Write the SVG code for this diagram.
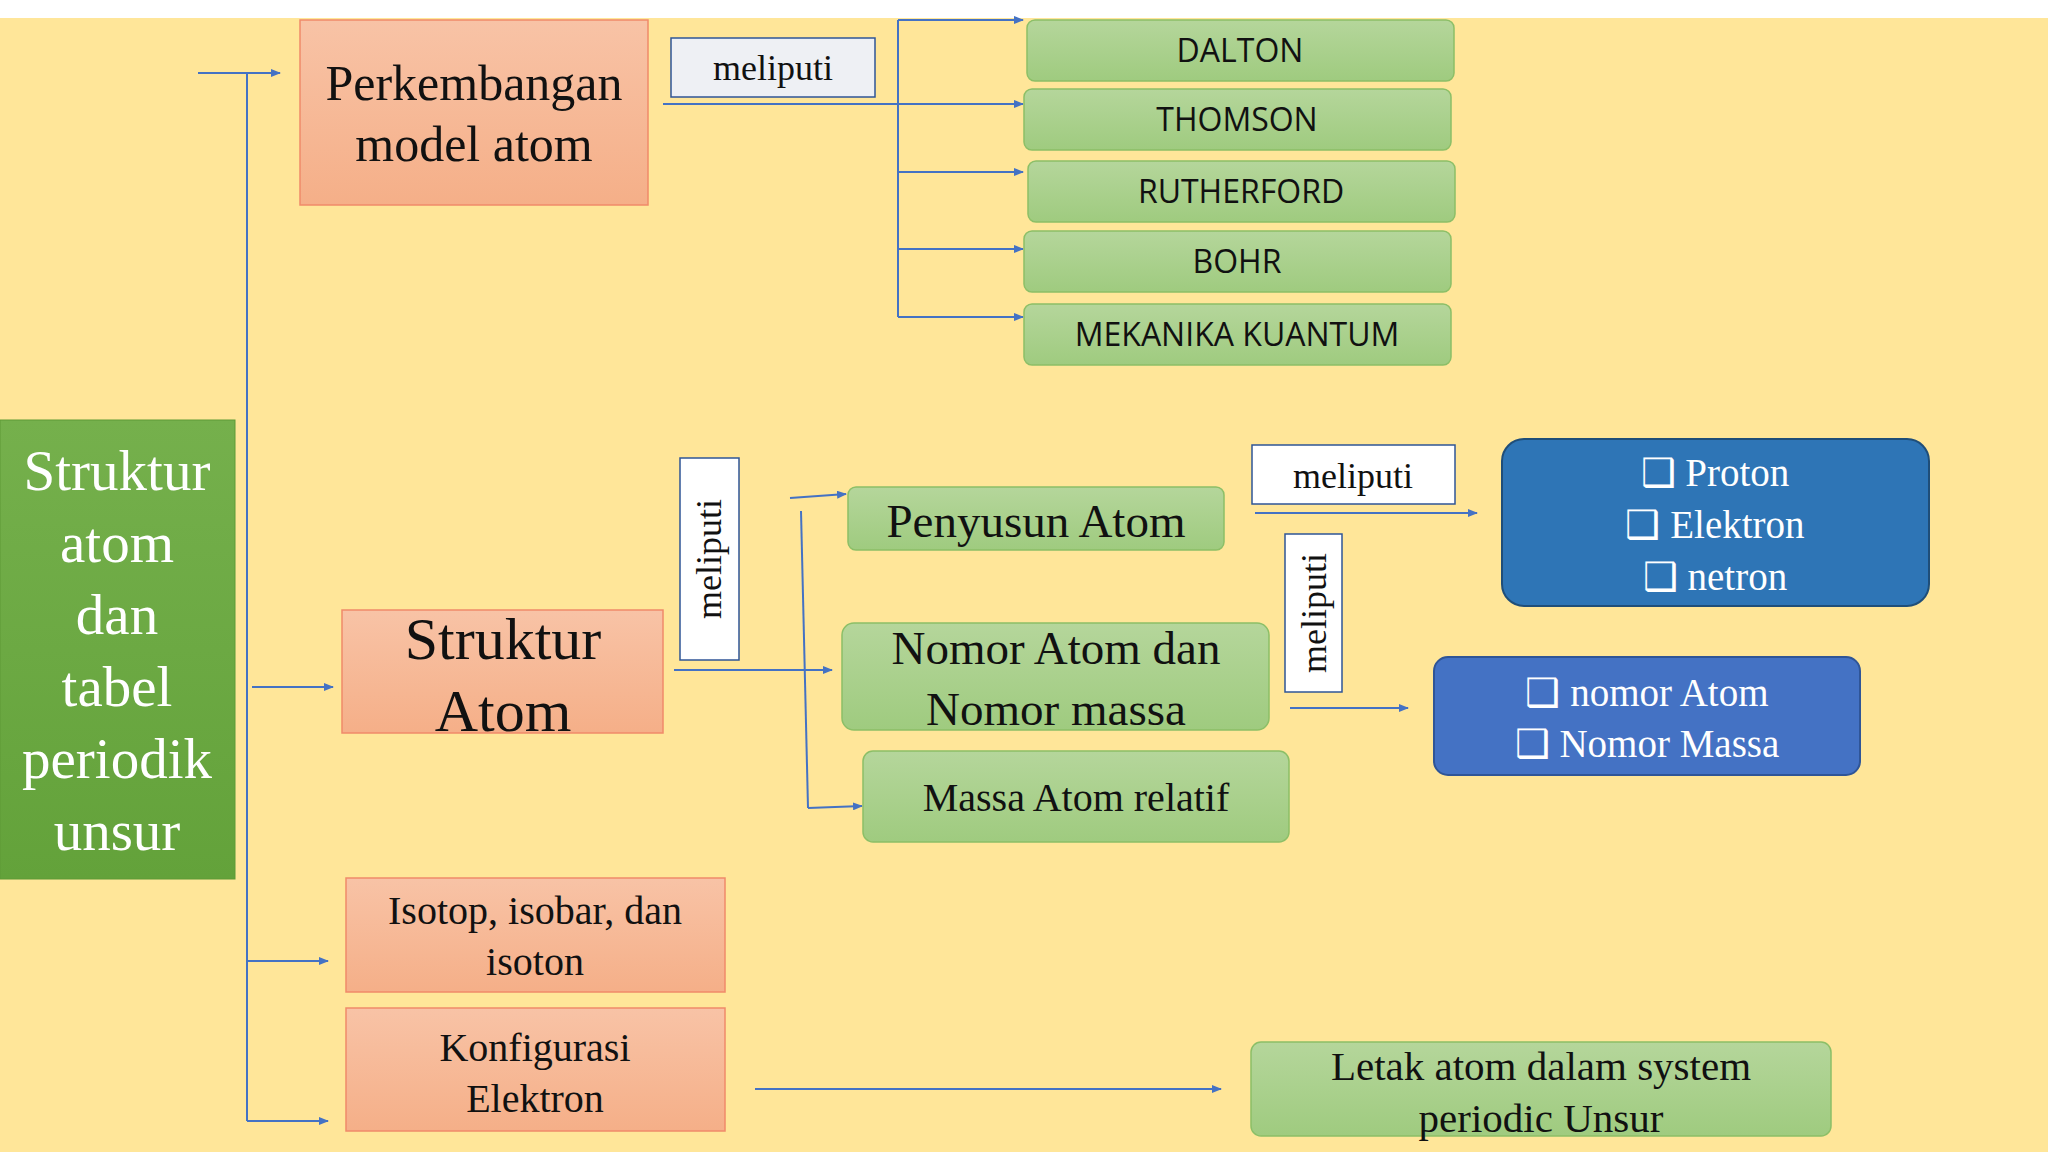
<svg xmlns="http://www.w3.org/2000/svg" width="2048" height="1152" viewBox="0 0 2048 1152">
<defs>
<linearGradient id="sal" x1="0" y1="0" x2="0" y2="1"><stop offset="0" stop-color="#F8C3A6"/><stop offset="1" stop-color="#F5AF88"/></linearGradient>
<linearGradient id="grn" x1="0" y1="0" x2="0" y2="1"><stop offset="0" stop-color="#B5D69B"/><stop offset="1" stop-color="#9FCB7F"/></linearGradient>
<linearGradient id="main" x1="0" y1="0" x2="0" y2="1"><stop offset="0" stop-color="#75B04C"/><stop offset="1" stop-color="#63A23A"/></linearGradient>
<marker id="ah" markerWidth="10" markerHeight="8" refX="9" refY="4" orient="auto" markerUnits="userSpaceOnUse"><path d="M0,0 L10,4 L0,8 Z" fill="#4472C4"/></marker>
<style>
.sal{fill:url(#sal);stroke:#F08A6A;stroke-width:1.5}
.grn{fill:url(#grn);stroke:#8CBF67;stroke-width:1.5}
.lbl{fill:#fff;stroke:#2F5597;stroke-width:1.5}
.ser{font-family:"Liberation Serif",serif;fill:#111;text-anchor:middle}
.san{font-family:"Open Sans","Liberation Sans",sans-serif;fill:#111;text-anchor:middle;font-size:32px}
.wt{font-family:"Liberation Serif",serif;fill:#fff;text-anchor:middle;font-size:39px}
.c line,.c path{stroke:#4472C4;stroke-width:2;fill:none}
.a{marker-end:url(#ah)}
</style>
</defs>
<rect width="2048" height="1152" fill="#FFE699"/>
<rect width="2048" height="18" fill="#fff"/>
<g class="c">
<line x1="247" y1="73" x2="247" y2="1121"/>
<line class="a" x1="198" y1="73" x2="280" y2="73"/>
<line class="a" x1="252" y1="687" x2="333" y2="687"/>
<line class="a" x1="247" y1="961" x2="328" y2="961"/>
<line class="a" x1="247" y1="1121" x2="328" y2="1121"/>
<line class="a" x1="663" y1="104" x2="1023" y2="104"/>
<line x1="898" y1="20" x2="898" y2="317"/>
<line class="a" x1="898" y1="20" x2="1023" y2="20"/>
<line class="a" x1="898" y1="172" x2="1023" y2="172"/>
<line class="a" x1="898" y1="249" x2="1023" y2="249"/>
<line class="a" x1="898" y1="317" x2="1023" y2="317"/>
<line class="a" x1="674" y1="670" x2="832" y2="670"/>
<line x1="801" y1="511" x2="808" y2="808"/>
<line class="a" x1="790" y1="498" x2="846" y2="494"/>
<line class="a" x1="808" y1="808" x2="862" y2="806"/>
<line class="a" x1="1255" y1="513" x2="1477" y2="513"/>
<line class="a" x1="1290" y1="708" x2="1408" y2="708"/>
<line class="a" x1="755" y1="1089" x2="1221" y2="1089"/>
</g>
<g id="main-node"><rect x="0" y="420" width="235" height="459" fill="url(#main)" stroke="#5E9A36"/>
<g class="wt" style="font-size:57px"><text x="117" y="490">Struktur</text><text x="117" y="562">atom</text><text x="117" y="634">dan</text><text x="117" y="706">tabel</text><text x="117" y="778">periodik</text><text x="117" y="850">unsur</text></g></g>
<g id="perkembangan"><rect class="sal" x="300" y="20" width="348" height="185"/><text class="ser" font-size="50" x="474" y="100">Perkembangan</text><text class="ser" font-size="50" x="474" y="161">model atom</text></g>
<g id="meliputi1"><rect class="lbl" x="671" y="38" width="204" height="59" style="fill:#EEF0F4"/><text class="ser" font-size="36" x="773" y="80">meliputi</text></g>
<g id="dalton"><rect class="grn" x="1027" y="20" width="427" height="61" rx="8"/><text class="san" x="1240" y="62">DALTON</text></g>
<g id="thomson"><rect class="grn" x="1024" y="89" width="427" height="61" rx="8"/><text class="san" x="1237" y="131">THOMSON</text></g>
<g id="rutherford"><rect class="grn" x="1028" y="161" width="427" height="61" rx="8"/><text class="san" x="1241" y="203">RUTHERFORD</text></g>
<g id="bohr"><rect class="grn" x="1024" y="231" width="427" height="61" rx="8"/><text class="san" x="1237" y="273">BOHR</text></g>
<g id="kuantum"><rect class="grn" x="1024" y="304" width="427" height="61" rx="8"/><text class="san" x="1237" y="346">MEKANIKA KUANTUM</text></g>
<g id="struktur"><rect class="sal" x="342" y="610" width="321" height="123"/><text class="ser" font-size="60" x="503" y="659">Struktur</text><text class="ser" font-size="60" x="503" y="731">Atom</text></g>
<g id="meliputi2"><rect class="lbl" x="680" y="458" width="59" height="202"/><text class="ser" font-size="36" transform="translate(721,559) rotate(-90)">meliputi</text></g>
<g id="penyusun"><rect class="grn" x="848" y="487" width="376" height="63" rx="8"/><text class="ser" font-size="47" x="1036" y="537">Penyusun Atom</text></g>
<g id="nomor"><rect class="grn" x="842" y="623" width="427" height="107" rx="12"/><text class="ser" font-size="47" x="1056" y="664">Nomor Atom dan</text><text class="ser" font-size="47" x="1056" y="725">Nomor massa</text></g>
<g id="massa"><rect class="grn" x="863" y="751" width="426" height="91" rx="10"/><text class="ser" font-size="40" x="1076" y="811">Massa Atom relatif</text></g>
<g id="meliputi3"><rect class="lbl" x="1252" y="445" width="203" height="59"/><text class="ser" font-size="36" x="1353" y="488">meliputi</text></g>
<g id="meliputi4"><rect class="lbl" x="1285" y="534" width="57" height="158"/><text class="ser" font-size="36" transform="translate(1326,613) rotate(-90)">meliputi</text></g>
<g id="proton"><rect x="1502" y="439" width="427" height="167" rx="22" fill="#2E75B6" stroke="#1F4E79" stroke-width="2"/><text class="wt" x="1715" y="486">❑ Proton</text><text class="wt" x="1715" y="538">❑ Elektron</text><text class="wt" x="1715" y="590">❑ netron</text></g>
<g id="nomorbox"><rect x="1434" y="657" width="426" height="118" rx="14" fill="#4472C4" stroke="#2F5597" stroke-width="2"/><text class="wt" x="1647" y="706">❑ nomor Atom</text><text class="wt" x="1647" y="757">❑ Nomor Massa</text></g>
<g id="isotop"><rect class="sal" x="346" y="878" width="379" height="114"/><text class="ser" font-size="40" x="535" y="924">Isotop, isobar, dan</text><text class="ser" font-size="40" x="535" y="975">isoton</text></g>
<g id="konfig"><rect class="sal" x="346" y="1008" width="379" height="123"/><text class="ser" font-size="40" x="535" y="1061">Konfigurasi</text><text class="ser" font-size="40" x="535" y="1112">Elektron</text></g>
<g id="letak"><rect class="grn" x="1251" y="1042" width="580" height="94" rx="10"/><text class="ser" font-size="41" x="1541" y="1080">Letak atom dalam system</text><text class="ser" font-size="41" x="1541" y="1132">periodic Unsur</text></g>
</svg>
